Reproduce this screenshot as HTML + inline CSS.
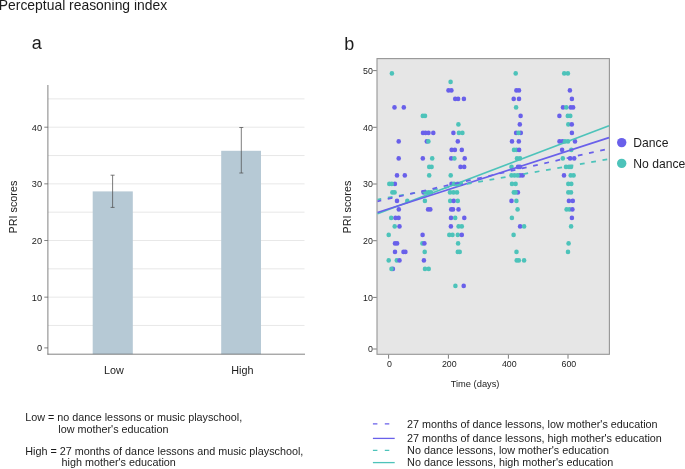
<!DOCTYPE html>
<html><head><meta charset="utf-8"><title>Perceptual reasoning index</title>
<style>
html,body{margin:0;padding:0;background:#fff;}
svg{display:block;font-family:"Liberation Sans",sans-serif;fill:#1c1c1c;}
.t9{font-size:9.9px} .t8{font-size:9.3px} .t93{font-size:9.3px} .t10{font-size:10.8px} .t105{font-size:10.8px} .t14{font-size:13.9px} .t11{font-size:11px} .t12{font-size:12.15px} .t18{font-size:18px}
</style></head><body>
<svg width="685" height="469" viewBox="0 0 685 469">
<rect width="685" height="469" fill="#fff"/>
<text class="t14" x="-1.2" y="9.9">Perceptual reasoning index</text>
<text class="t18" x="31.8" y="48.8">a</text>
<text class="t18" x="344.2" y="50">b</text>

<!-- panel a -->
<g stroke="#dcdcdc" stroke-width="0.65"><line x1="48" x2="304.5" y1="325.48" y2="325.48"/><line x1="48" x2="304.5" y1="297.15" y2="297.15"/><line x1="48" x2="304.5" y1="268.82" y2="268.82"/><line x1="48" x2="304.5" y1="240.50" y2="240.50"/><line x1="48" x2="304.5" y1="212.18" y2="212.18"/><line x1="48" x2="304.5" y1="183.85" y2="183.85"/><line x1="48" x2="304.5" y1="155.53" y2="155.53"/><line x1="48" x2="304.5" y1="127.20" y2="127.20"/><line x1="48" x2="304.5" y1="98.88" y2="98.88"/></g>
<rect x="92.7" y="191.4" width="40.1" height="162.8" fill="#b6c9d5"/>
<rect x="221.2" y="150.8" width="39.8" height="203.4" fill="#b6c9d5"/>
<g stroke="#505050" stroke-width="0.75" fill="none">
<path d="M112.6 175.2V207.4M110.6 175.2h4M110.6 207.4h4"/>
<path d="M241.3 127.5V173M239.3 127.5h4M239.3 173h4"/>
</g>
<g stroke="#5a5a5a" stroke-width="0.75">
<line x1="47.9" x2="47.9" y1="85" y2="354.6"/>
<line x1="47.5" x2="305" y1="354.2" y2="354.2"/>
<line x1="44.3" x2="47.9" y1="127.20" y2="127.20"/><line x1="44.3" x2="47.9" y1="183.85" y2="183.85"/><line x1="44.3" x2="47.9" y1="240.50" y2="240.50"/><line x1="44.3" x2="47.9" y1="297.15" y2="297.15"/><line x1="44.3" x2="47.9" y1="347.90" y2="347.90"/>
</g>
<g class="t9" transform="scale(0.93,1)"><text x="45.27" y="130.70" text-anchor="end">40</text><text x="45.27" y="187.35" text-anchor="end">30</text><text x="45.27" y="244.00" text-anchor="end">20</text><text x="45.27" y="300.65" text-anchor="end">10</text><text x="45.27" y="351.40" text-anchor="end">0</text></g>
<text class="t105" transform="translate(16.8,233.5) rotate(-90)">PRI scores</text>
<text class="t105" x="114" y="373.5" text-anchor="middle">Low</text>
<text class="t105" x="242.3" y="373.5" text-anchor="middle">High</text>
<g class="t10">
<text x="25.2" y="421.3">Low = no dance lessons or music playschool,</text>
<text x="58.3" y="433.2">low mother's education</text>
<text x="25.2" y="454.5">High = 27 months of dance lessons and music playschool,</text>
<text x="61.5" y="466.3">high mother's education</text>
</g>

<!-- panel b -->
<rect x="377" y="58.6" width="232.4" height="295.7" fill="#e6e6e6" stroke="#969696" stroke-width="1.1"/>
<g>
<circle cx="391.9" cy="73.4" r="2.3" fill="#4dc3ba"/>
<circle cx="515.7" cy="73.4" r="2.3" fill="#4dc3ba"/>
<circle cx="564.2" cy="73.4" r="2.3" fill="#4dc3ba"/>
<circle cx="567.9" cy="73.4" r="2.3" fill="#4dc3ba"/>
<circle cx="450.6" cy="81.9" r="2.3" fill="#4dc3ba"/>
<circle cx="448.5" cy="90.4" r="2.3" fill="#6960ea"/>
<circle cx="451.4" cy="90.4" r="2.3" fill="#6960ea"/>
<circle cx="516.4" cy="90.4" r="2.3" fill="#6960ea"/>
<circle cx="519.0" cy="90.4" r="2.3" fill="#6960ea"/>
<circle cx="569.9" cy="90.4" r="2.3" fill="#6960ea"/>
<circle cx="455.2" cy="98.9" r="2.3" fill="#6960ea"/>
<circle cx="458.1" cy="98.9" r="2.3" fill="#6960ea"/>
<circle cx="463.9" cy="98.9" r="2.3" fill="#6960ea"/>
<circle cx="513.7" cy="98.9" r="2.3" fill="#6960ea"/>
<circle cx="519.0" cy="98.9" r="2.3" fill="#6960ea"/>
<circle cx="571.9" cy="98.9" r="2.3" fill="#6960ea"/>
<circle cx="394.5" cy="107.4" r="2.3" fill="#6960ea"/>
<circle cx="403.8" cy="107.4" r="2.3" fill="#6960ea"/>
<circle cx="516.1" cy="107.4" r="2.3" fill="#4dc3ba"/>
<circle cx="563.0" cy="107.4" r="2.3" fill="#6960ea"/>
<circle cx="566.3" cy="107.4" r="2.3" fill="#4dc3ba"/>
<circle cx="570.7" cy="107.4" r="2.3" fill="#6960ea"/>
<circle cx="573.1" cy="107.4" r="2.3" fill="#6960ea"/>
<circle cx="422.8" cy="115.9" r="2.3" fill="#4dc3ba"/>
<circle cx="425.0" cy="115.9" r="2.3" fill="#4dc3ba"/>
<circle cx="520.6" cy="115.9" r="2.3" fill="#6960ea"/>
<circle cx="559.4" cy="115.9" r="2.3" fill="#6960ea"/>
<circle cx="567.8" cy="115.9" r="2.3" fill="#4dc3ba"/>
<circle cx="570.3" cy="115.9" r="2.3" fill="#4dc3ba"/>
<circle cx="458.4" cy="124.4" r="2.3" fill="#4dc3ba"/>
<circle cx="519.8" cy="124.4" r="2.3" fill="#6960ea"/>
<circle cx="568.3" cy="124.4" r="2.3" fill="#4dc3ba"/>
<circle cx="571.8" cy="124.4" r="2.3" fill="#6960ea"/>
<circle cx="423.0" cy="132.9" r="2.3" fill="#6960ea"/>
<circle cx="425.5" cy="132.9" r="2.3" fill="#6960ea"/>
<circle cx="428.5" cy="132.9" r="2.3" fill="#6960ea"/>
<circle cx="433.3" cy="132.9" r="2.3" fill="#6960ea"/>
<circle cx="453.4" cy="132.9" r="2.3" fill="#6960ea"/>
<circle cx="458.9" cy="132.9" r="2.3" fill="#4dc3ba"/>
<circle cx="462.4" cy="132.9" r="2.3" fill="#4dc3ba"/>
<circle cx="516.1" cy="132.9" r="2.3" fill="#6960ea"/>
<circle cx="520.8" cy="132.9" r="2.3" fill="#6960ea"/>
<circle cx="518.5" cy="132.9" r="2.3" fill="#4dc3ba"/>
<circle cx="571.9" cy="132.9" r="2.3" fill="#6960ea"/>
<circle cx="398.7" cy="141.4" r="2.3" fill="#6960ea"/>
<circle cx="426.8" cy="141.4" r="2.3" fill="#6960ea"/>
<circle cx="428.4" cy="141.4" r="2.3" fill="#4dc3ba"/>
<circle cx="457.8" cy="141.4" r="2.3" fill="#6960ea"/>
<circle cx="512.0" cy="141.4" r="2.3" fill="#6960ea"/>
<circle cx="518.8" cy="141.4" r="2.3" fill="#6960ea"/>
<circle cx="559.5" cy="141.4" r="2.3" fill="#6960ea"/>
<circle cx="562.5" cy="141.4" r="2.3" fill="#6960ea"/>
<circle cx="565.0" cy="141.4" r="2.3" fill="#4dc3ba"/>
<circle cx="568.0" cy="141.4" r="2.3" fill="#4dc3ba"/>
<circle cx="575.0" cy="141.4" r="2.3" fill="#6960ea"/>
<circle cx="451.7" cy="149.9" r="2.3" fill="#6960ea"/>
<circle cx="454.9" cy="149.9" r="2.3" fill="#6960ea"/>
<circle cx="461.8" cy="149.9" r="2.3" fill="#6960ea"/>
<circle cx="514.0" cy="149.9" r="2.3" fill="#4dc3ba"/>
<circle cx="516.5" cy="149.9" r="2.3" fill="#4dc3ba"/>
<circle cx="519.1" cy="149.9" r="2.3" fill="#6960ea"/>
<circle cx="562.1" cy="149.9" r="2.3" fill="#6960ea"/>
<circle cx="571.3" cy="149.9" r="2.3" fill="#4dc3ba"/>
<circle cx="398.7" cy="158.4" r="2.3" fill="#6960ea"/>
<circle cx="422.8" cy="158.4" r="2.3" fill="#6960ea"/>
<circle cx="432.2" cy="158.4" r="2.3" fill="#4dc3ba"/>
<circle cx="451.2" cy="158.4" r="2.3" fill="#6960ea"/>
<circle cx="454.4" cy="158.4" r="2.3" fill="#4dc3ba"/>
<circle cx="464.7" cy="158.4" r="2.3" fill="#6960ea"/>
<circle cx="517.0" cy="158.4" r="2.3" fill="#4dc3ba"/>
<circle cx="520.0" cy="158.4" r="2.3" fill="#4dc3ba"/>
<circle cx="562.8" cy="158.4" r="2.3" fill="#4dc3ba"/>
<circle cx="570.1" cy="158.4" r="2.3" fill="#6960ea"/>
<circle cx="574.2" cy="158.4" r="2.3" fill="#6960ea"/>
<circle cx="429.2" cy="166.9" r="2.3" fill="#4dc3ba"/>
<circle cx="431.6" cy="166.9" r="2.3" fill="#4dc3ba"/>
<circle cx="460.5" cy="166.9" r="2.3" fill="#6960ea"/>
<circle cx="464.2" cy="166.9" r="2.3" fill="#6960ea"/>
<circle cx="511.5" cy="166.9" r="2.3" fill="#4dc3ba"/>
<circle cx="518.0" cy="166.9" r="2.3" fill="#6960ea"/>
<circle cx="520.0" cy="166.9" r="2.3" fill="#6960ea"/>
<circle cx="566.0" cy="166.9" r="2.3" fill="#4dc3ba"/>
<circle cx="569.0" cy="166.9" r="2.3" fill="#4dc3ba"/>
<circle cx="571.0" cy="166.9" r="2.3" fill="#4dc3ba"/>
<circle cx="397.0" cy="175.4" r="2.3" fill="#6960ea"/>
<circle cx="404.8" cy="175.4" r="2.3" fill="#6960ea"/>
<circle cx="429.2" cy="175.4" r="2.3" fill="#4dc3ba"/>
<circle cx="450.7" cy="175.4" r="2.3" fill="#4dc3ba"/>
<circle cx="520.0" cy="175.4" r="2.3" fill="#6960ea"/>
<circle cx="522.6" cy="175.4" r="2.3" fill="#6960ea"/>
<circle cx="511.5" cy="175.4" r="2.3" fill="#4dc3ba"/>
<circle cx="514.5" cy="175.4" r="2.3" fill="#4dc3ba"/>
<circle cx="517.5" cy="175.4" r="2.3" fill="#4dc3ba"/>
<circle cx="564.0" cy="175.4" r="2.3" fill="#6960ea"/>
<circle cx="570.7" cy="175.4" r="2.3" fill="#4dc3ba"/>
<circle cx="573.6" cy="175.4" r="2.3" fill="#4dc3ba"/>
<circle cx="394.9" cy="183.9" r="2.3" fill="#6960ea"/>
<circle cx="389.3" cy="183.9" r="2.3" fill="#4dc3ba"/>
<circle cx="391.8" cy="183.9" r="2.3" fill="#4dc3ba"/>
<circle cx="451.5" cy="183.9" r="2.3" fill="#6960ea"/>
<circle cx="454.0" cy="183.9" r="2.3" fill="#4dc3ba"/>
<circle cx="457.5" cy="183.9" r="2.3" fill="#4dc3ba"/>
<circle cx="461.0" cy="183.9" r="2.3" fill="#4dc3ba"/>
<circle cx="512.0" cy="183.9" r="2.3" fill="#4dc3ba"/>
<circle cx="515.6" cy="183.9" r="2.3" fill="#4dc3ba"/>
<circle cx="568.3" cy="183.9" r="2.3" fill="#4dc3ba"/>
<circle cx="571.3" cy="183.9" r="2.3" fill="#4dc3ba"/>
<circle cx="392.4" cy="192.4" r="2.3" fill="#4dc3ba"/>
<circle cx="394.6" cy="192.4" r="2.3" fill="#4dc3ba"/>
<circle cx="423.6" cy="192.4" r="2.3" fill="#6960ea"/>
<circle cx="425.5" cy="192.4" r="2.3" fill="#4dc3ba"/>
<circle cx="428.5" cy="192.4" r="2.3" fill="#4dc3ba"/>
<circle cx="431.0" cy="192.4" r="2.3" fill="#4dc3ba"/>
<circle cx="450.0" cy="192.4" r="2.3" fill="#4dc3ba"/>
<circle cx="453.5" cy="192.4" r="2.3" fill="#4dc3ba"/>
<circle cx="457.0" cy="192.4" r="2.3" fill="#4dc3ba"/>
<circle cx="517.9" cy="192.4" r="2.3" fill="#6960ea"/>
<circle cx="513.8" cy="192.4" r="2.3" fill="#4dc3ba"/>
<circle cx="515.5" cy="192.4" r="2.3" fill="#4dc3ba"/>
<circle cx="568.3" cy="192.4" r="2.3" fill="#4dc3ba"/>
<circle cx="571.0" cy="192.4" r="2.3" fill="#4dc3ba"/>
<circle cx="397.0" cy="200.9" r="2.3" fill="#6960ea"/>
<circle cx="407.3" cy="200.9" r="2.3" fill="#4dc3ba"/>
<circle cx="424.9" cy="200.9" r="2.3" fill="#4dc3ba"/>
<circle cx="450.2" cy="200.9" r="2.3" fill="#4dc3ba"/>
<circle cx="453.7" cy="200.9" r="2.3" fill="#6960ea"/>
<circle cx="457.8" cy="200.9" r="2.3" fill="#4dc3ba"/>
<circle cx="511.5" cy="200.9" r="2.3" fill="#6960ea"/>
<circle cx="516.4" cy="200.9" r="2.3" fill="#4dc3ba"/>
<circle cx="568.9" cy="200.9" r="2.3" fill="#6960ea"/>
<circle cx="572.8" cy="200.9" r="2.3" fill="#6960ea"/>
<circle cx="398.8" cy="209.4" r="2.3" fill="#6960ea"/>
<circle cx="428.1" cy="209.4" r="2.3" fill="#6960ea"/>
<circle cx="430.3" cy="209.4" r="2.3" fill="#6960ea"/>
<circle cx="451.2" cy="209.4" r="2.3" fill="#6960ea"/>
<circle cx="453.0" cy="209.4" r="2.3" fill="#6960ea"/>
<circle cx="458.5" cy="209.4" r="2.3" fill="#6960ea"/>
<circle cx="517.6" cy="209.4" r="2.3" fill="#4dc3ba"/>
<circle cx="566.6" cy="209.4" r="2.3" fill="#4dc3ba"/>
<circle cx="569.5" cy="209.4" r="2.3" fill="#4dc3ba"/>
<circle cx="572.4" cy="209.4" r="2.3" fill="#6960ea"/>
<circle cx="391.2" cy="217.9" r="2.3" fill="#4dc3ba"/>
<circle cx="395.5" cy="217.9" r="2.3" fill="#6960ea"/>
<circle cx="398.6" cy="217.9" r="2.3" fill="#6960ea"/>
<circle cx="451.0" cy="217.9" r="2.3" fill="#6960ea"/>
<circle cx="455.2" cy="217.9" r="2.3" fill="#4dc3ba"/>
<circle cx="464.3" cy="217.9" r="2.3" fill="#6960ea"/>
<circle cx="511.9" cy="217.9" r="2.3" fill="#4dc3ba"/>
<circle cx="571.9" cy="217.9" r="2.3" fill="#6960ea"/>
<circle cx="394.7" cy="226.4" r="2.3" fill="#4dc3ba"/>
<circle cx="399.5" cy="226.4" r="2.3" fill="#6960ea"/>
<circle cx="450.9" cy="226.4" r="2.3" fill="#6960ea"/>
<circle cx="458.6" cy="226.4" r="2.3" fill="#4dc3ba"/>
<circle cx="461.8" cy="226.4" r="2.3" fill="#4dc3ba"/>
<circle cx="520.1" cy="226.4" r="2.3" fill="#6960ea"/>
<circle cx="524.1" cy="226.4" r="2.3" fill="#4dc3ba"/>
<circle cx="571.1" cy="226.4" r="2.3" fill="#4dc3ba"/>
<circle cx="388.7" cy="234.9" r="2.3" fill="#4dc3ba"/>
<circle cx="422.6" cy="234.9" r="2.3" fill="#6960ea"/>
<circle cx="449.3" cy="234.9" r="2.3" fill="#4dc3ba"/>
<circle cx="452.5" cy="234.9" r="2.3" fill="#4dc3ba"/>
<circle cx="457.8" cy="234.9" r="2.3" fill="#4dc3ba"/>
<circle cx="461.8" cy="234.9" r="2.3" fill="#6960ea"/>
<circle cx="513.6" cy="234.9" r="2.3" fill="#4dc3ba"/>
<circle cx="395.0" cy="243.4" r="2.3" fill="#6960ea"/>
<circle cx="397.1" cy="243.4" r="2.3" fill="#6960ea"/>
<circle cx="422.4" cy="243.4" r="2.3" fill="#4dc3ba"/>
<circle cx="424.4" cy="243.4" r="2.3" fill="#6960ea"/>
<circle cx="458.1" cy="243.4" r="2.3" fill="#4dc3ba"/>
<circle cx="568.6" cy="243.4" r="2.3" fill="#4dc3ba"/>
<circle cx="395.0" cy="251.9" r="2.3" fill="#6960ea"/>
<circle cx="403.5" cy="251.9" r="2.3" fill="#6960ea"/>
<circle cx="405.4" cy="251.9" r="2.3" fill="#6960ea"/>
<circle cx="424.7" cy="251.9" r="2.3" fill="#4dc3ba"/>
<circle cx="457.8" cy="251.9" r="2.3" fill="#4dc3ba"/>
<circle cx="459.7" cy="251.9" r="2.3" fill="#4dc3ba"/>
<circle cx="516.5" cy="251.9" r="2.3" fill="#4dc3ba"/>
<circle cx="568.0" cy="251.9" r="2.3" fill="#4dc3ba"/>
<circle cx="388.7" cy="260.4" r="2.3" fill="#4dc3ba"/>
<circle cx="396.8" cy="260.4" r="2.3" fill="#4dc3ba"/>
<circle cx="399.5" cy="260.4" r="2.3" fill="#6960ea"/>
<circle cx="423.9" cy="260.4" r="2.3" fill="#6960ea"/>
<circle cx="516.7" cy="260.4" r="2.3" fill="#4dc3ba"/>
<circle cx="518.8" cy="260.4" r="2.3" fill="#4dc3ba"/>
<circle cx="524.1" cy="260.4" r="2.3" fill="#4dc3ba"/>
<circle cx="392.9" cy="268.9" r="2.3" fill="#6960ea"/>
<circle cx="391.5" cy="268.9" r="2.3" fill="#4dc3ba"/>
<circle cx="425.0" cy="268.9" r="2.3" fill="#4dc3ba"/>
<circle cx="428.7" cy="268.9" r="2.3" fill="#4dc3ba"/>
<circle cx="455.4" cy="285.9" r="2.3" fill="#4dc3ba"/>
<circle cx="463.7" cy="285.9" r="2.3" fill="#6960ea"/>
</g>
<g fill="none" stroke-width="1.75">
<path d="M377.5 213.7L609 125.7" stroke="#4dc3ba"/>
<path d="M377.5 212.5L609 137.7" stroke="#6960ea"/>
<path d="M377.5 199.5L609 159.1" stroke="#4dc3ba" stroke-dasharray="4.8 6.67" stroke-dashoffset="1.0"/>
<path d="M377.5 201.3L609 148.6" stroke="#6960ea" stroke-dasharray="4.8 6.67" stroke-dashoffset="1.0"/>
</g>
<g stroke="#444" stroke-width="0.7"><line x1="373.1" x2="376.6" y1="70.60" y2="70.60"/><line x1="373.1" x2="376.6" y1="127.30" y2="127.30"/><line x1="373.1" x2="376.6" y1="184.00" y2="184.00"/><line x1="373.1" x2="376.6" y1="240.70" y2="240.70"/><line x1="373.1" x2="376.6" y1="297.40" y2="297.40"/><line x1="373.1" x2="376.6" y1="349.00" y2="349.00"/><line x1="388.6" x2="388.6" y1="354.8" y2="358.7"/><line x1="448.4" x2="448.4" y1="354.8" y2="358.7"/><line x1="508.4" x2="508.4" y1="354.8" y2="358.7"/><line x1="568.0" x2="568.0" y1="354.8" y2="358.7"/></g>
<g class="t8" transform="scale(0.95,1)"><text x="392.53" y="73.90" text-anchor="end">50</text><text x="392.53" y="130.60" text-anchor="end">40</text><text x="392.53" y="187.30" text-anchor="end">30</text><text x="392.53" y="244.00" text-anchor="end">20</text><text x="392.53" y="300.70" text-anchor="end">10</text><text x="392.53" y="352.30" text-anchor="end">0</text><text x="410.00" y="367" text-anchor="middle">0</text><text x="472.95" y="367" text-anchor="middle">200</text><text x="536.11" y="367" text-anchor="middle">400</text><text x="598.84" y="367" text-anchor="middle">600</text></g>
<text class="t105" transform="translate(351.4,233.5) rotate(-90)">PRI scores</text>
<text class="t93" x="475.1" y="386.8" text-anchor="middle">Time (days)</text>
<circle cx="621.7" cy="142.6" r="4.7" fill="#6960ea"/>
<circle cx="621.7" cy="163.4" r="4.7" fill="#4dc3ba"/>
<text class="t12" x="633.3" y="147.4">Dance</text>
<text class="t12" x="633.3" y="168.3">No dance</text>

<g fill="none" stroke-width="1.3">
<path d="M372.9 423.9h21.8" stroke="#6960ea" stroke-dasharray="4.5 7.4"/>
<path d="M372.9 438.4h21.8" stroke="#6960ea"/>
<path d="M372.9 450.4h21.8" stroke="#4dc3ba" stroke-dasharray="4.5 7.4"/>
<path d="M372.9 462.6h21.8" stroke="#4dc3ba"/>
</g>
<g class="t10">
<text x="407.1" y="428.1">27 months of dance lessons, low mother's education</text>
<text x="407.1" y="441.5">27 months of dance lessons, high mother's education</text>
<text x="407.1" y="454.1">No dance lessons, low mother's education</text>
<text x="407.1" y="466.3">No dance lessons, high mother's education</text>
</g>
</svg>
</body></html>
